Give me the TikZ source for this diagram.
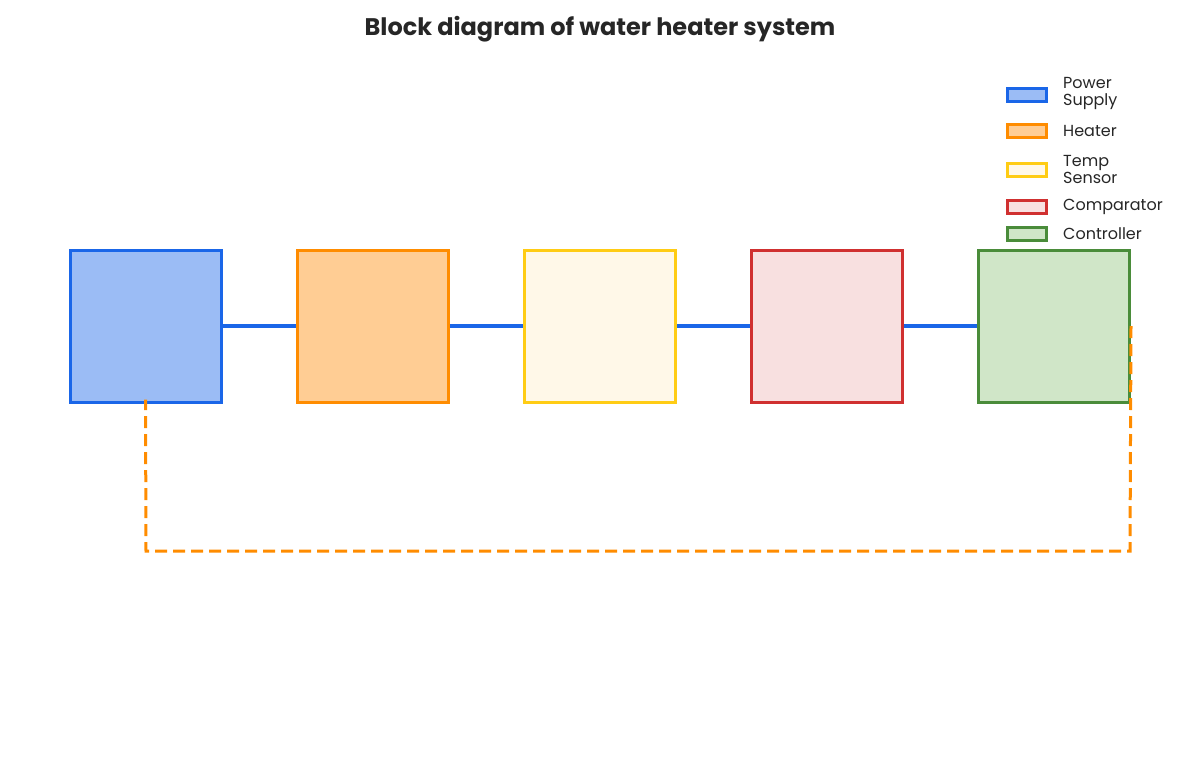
\documentclass[tikz,border=0pt]{standalone}
\usepackage{fontspec}
\setmainfont{Poppins}
\begin{document}
\begin{tikzpicture}[x=1pt,y=-1pt,
  blk/.style={draw=#1, line width=3pt, minimum width=151pt, minimum height=152pt, inner sep=0pt},
  sw/.style={draw=#1, line width=3pt, minimum width=39pt, minimum height=13pt, inner sep=0pt},
  lt/.style={anchor=west, font=\fontsize{16}{17}\selectfont, text=black!85, align=left, inner sep=0pt},
  link/.style={draw={rgb,255:red,26;green,102;blue,232}, line width=4pt}]
\definecolor{bS}{RGB}{26,102,232}\definecolor{bF}{RGB}{155,188,245}
\definecolor{oS}{RGB}{255,140,0}\definecolor{oF}{RGB}{255,205,148}
\definecolor{yS}{RGB}{255,204,20}\definecolor{yF}{RGB}{255,248,232}
\definecolor{rS}{RGB}{208,48,48}\definecolor{rF}{RGB}{248,224,224}
\definecolor{gS}{RGB}{74,140,58}\definecolor{gF}{RGB}{208,230,200}
\useasboundingbox (0,0) rectangle (1200,763);
\node (title) at (600,29) {\fontsize{24}{28}\selectfont\bfseries\color{black!85}Block diagram of water heater system};
\node[blk=bS, fill=bF] (ps) at (145.5,326) {};
\node[blk=oS, fill=oF] (ht) at (372.5,326) {};
\node[blk=yS, fill=yF] (ts) at (600,326) {};
\node[blk=rS, fill=rF] (cp) at (827,326) {};
\node[blk=gS, fill=gF] (ct) at (1054,326) {};
\draw[link] (ps.east) -- (ht.west);
\draw[link] (ht.east) -- (ts.west);
\draw[link] (ts.east) -- (cp.west);
\draw[link] (cp.east) -- (ct.west);
\coordinate (c1) at (1130,551);
\coordinate (c2) at (146,551);
\draw[oS, line width=3pt, dash pattern=on 12pt off 6pt] (ct.east) -- (c1) -- (c2) -- ([yshift=4pt]ps.south);
\node[sw=bS, fill=bF] (l1) at (1026.5,95) {};
\node[sw=oS, fill=oF] (l2) at (1026.5,131) {};
\node[sw=yS, fill=yF] (l3) at (1026.5,170) {};
\node[sw=rS, fill=rF] (l4) at (1026.5,207) {};
\node[sw=gS, fill=gF] (l5) at (1026.5,234) {};
\node[lt] at (1063,94) {Power\\Supply};
\node[lt] at (1063,131) {Heater};
\node[lt] at (1063,169) {Temp\\Sensor};
\node[lt] at (1063,207) {Comparator};
\node[lt] at (1063,234) {Controller};
\end{tikzpicture}
\end{document}
